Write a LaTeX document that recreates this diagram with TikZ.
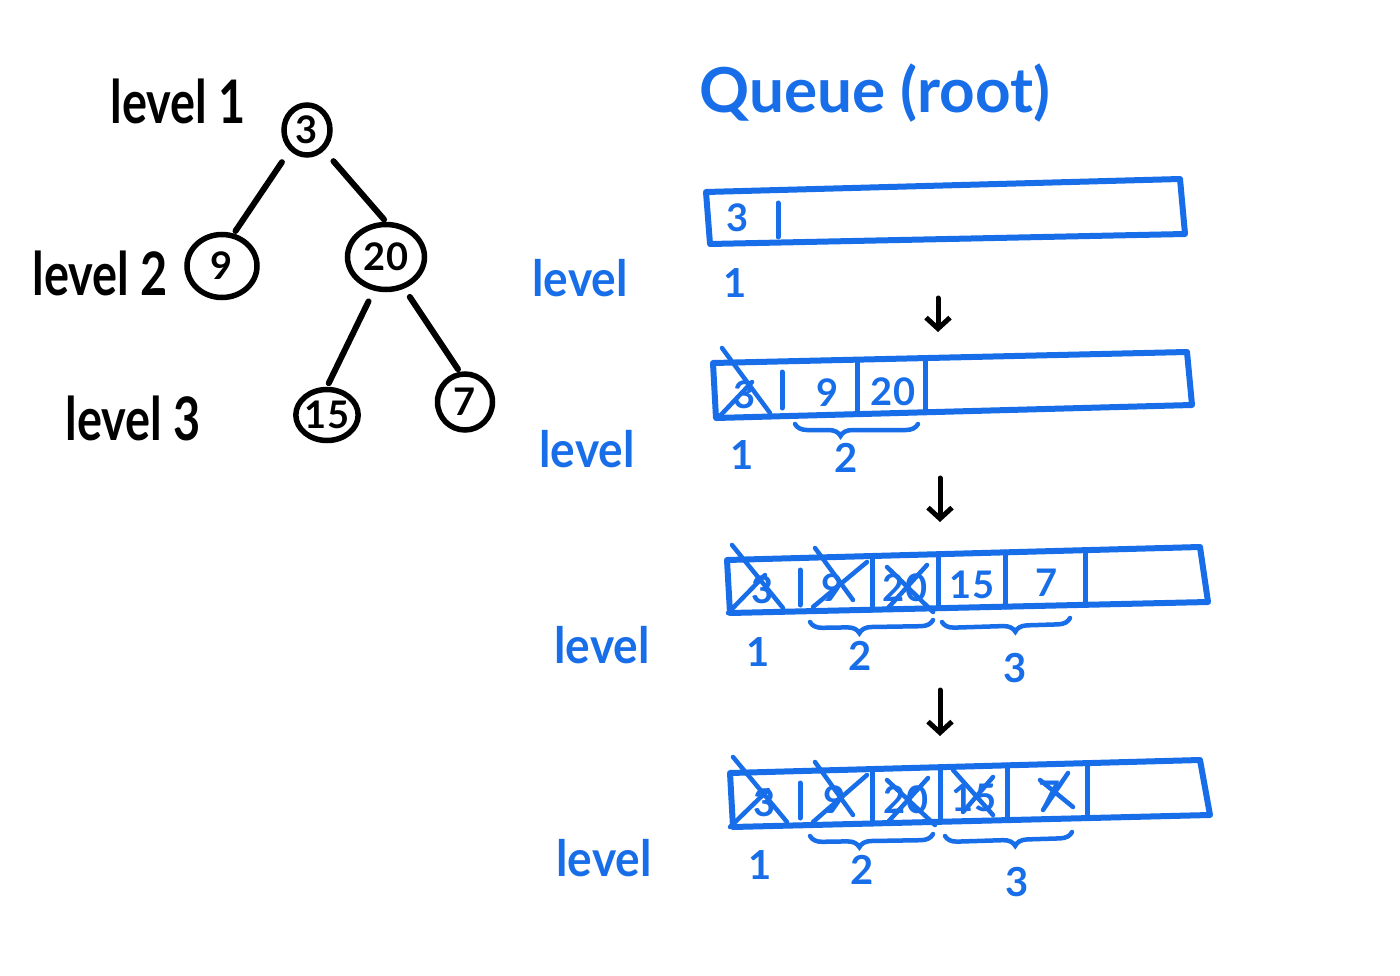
\documentclass[tikz,border=0pt]{standalone}
\usepackage{fontspec}
\setmainfont{Lato}
\usetikzlibrary{arrows.meta,shapes.geometric,decorations.pathreplacing}
\definecolor{pen}{RGB}{24,110,232}
\begin{document}
\begin{tikzpicture}[x=1pt,y=-1pt,
  treenode/.style={draw=black, line width=5.5pt, ellipse, inner sep=0pt, font=\fontsize{38}{40}\selectfont\bfseries},
  treeedge/.style={draw=black, line width=6pt, line cap=round},
  lvl/.style={font=\fontsize{60}{60}\selectfont\bfseries, xscale=0.78},
  qlvl/.style={text=pen, font=\fontsize{50}{50}\selectfont\bfseries, xscale=0.92},
  qbox/.style={draw=pen, line width=6pt, line join=round},
  qdiv/.style={draw=pen, line width=5pt, line cap=round},
  qtxt/.style={text=pen, font=\fontsize{38}{38}\selectfont\bfseries},
  qnum/.style={text=pen, font=\fontsize{40}{40}\selectfont\bfseries},
  xline/.style={draw=pen, line width=4.5pt, line cap=round},
  brc/.style={draw=pen, line width=4.5pt, line cap=round, decorate, decoration={brace, amplitude=12pt, mirror, aspect=#1}},
  steparrow/.style={draw=black, line width=5pt, line cap=round, -{Straight Barb[length=11pt,width=24pt,line width=5pt]}},
]
\useasboundingbox[fill=white] (0,0) rectangle (1400,976);

% ---------- tree ----------
\node[treenode, minimum width=46pt, minimum height=50pt] (n3) at (307,130) {3};
\node[treenode, minimum width=70pt, minimum height=63pt] (n9) at (222,266) {9};
\node[treenode, minimum width=77pt, minimum height=65pt] (n20) at (386,257) {20};
\node[treenode, minimum width=50pt, minimum height=51pt] (n15) at (327,415) {15};
\node[treenode, minimum width=55pt, minimum height=56pt] (n7) at (465,402) {7};

\draw[treeedge, shorten <=14pt, shorten >=3pt] (n3.230) -- (n9.70);
\draw[treeedge, shorten <=14pt, shorten >=3pt] (n3.310) -- (n20.north);
\draw[treeedge, shorten <=12pt, shorten >=4pt] (n20.250) -- (n15.north);
\draw[treeedge, shorten <=10pt, shorten >=3pt] (n20.300) -- (n7.100);

\node[lvl] (lv1) at (178,101) {level 1};
\node[lvl] (lv2) at (100,273) {level 2};
\node[lvl] (lv3) at (133,418) {level 3};

% ---------- queue ----------
\node[text=pen, font=\fontsize{62}{62}\selectfont\bfseries] (title) at (875,93) {Queue (root)};

\node[qlvl] (q1) at (580,278) {level};
\node[qlvl] (q2) at (587,449) {level};
\node[qlvl] (q3) at (602,645) {level};
\node[qlvl] (q4) at (604,858) {level};

% row 1
\draw[qbox] (706,192) -- (1180,179) -- (1185,234) -- (710,244) -- cycle;
\draw[qdiv] (778,203) -- (778,237);
\node[qtxt] (r1c1) at (738,218) {3};
\node[qnum] (r1l1) at (735,283) {1};

% row 2
\draw[qbox] (713,363) -- (1187,352) -- (1192,405) -- (716,418) -- cycle;
\draw[qdiv] (782,372) -- (782,408);
\draw[qdiv] (857,360) -- (857,414);
\draw[qdiv] (925,358) -- (925,412);
\node[qtxt] (r2c1) at (745,395) {3};
\node[qtxt] (r2c2) at (828,393) {9};
\node[qtxt] (r2c3) at (893,392) {20};
\draw[xline] (722,348) -- (770,413) (718,418) -- (752,382);
\draw[brc=0.37] (795,424) -- (918,424);
\node[qnum] (r2l1) at (742,455) {1};
\node[qnum] (r2l2) at (846,458) {2};

% row 3
\draw[qbox] (727,560) -- (1200,547) -- (1208,602) -- (730,613) -- cycle;
\draw[qdiv] (800,570) -- (800,605);
\draw[qdiv] (872,556) -- (872,610);
\draw[qdiv] (938,554) -- (938,608);
\draw[qdiv] (1005,552) -- (1005,607);
\draw[qdiv] (1085,550) -- (1085,605);
\node[qtxt] (r3c1) at (763,590) {3};
\node[qtxt] (r3c2) at (833,588) {9};
\node[qtxt] (r3c3) at (905,588) {20};
\node[qtxt] (r3c4) at (972,585) {15};
\node[qtxt] (r3c5) at (1047,583) {7};
\draw[xline] (732,545) -- (783,608) (728,613) -- (765,575);
\draw[xline] (815,548) -- (853,600) (813,607) -- (867,562);
\draw[xline] (887,567) -- (933,612) (888,608) -- (927,565);
\draw[brc=0.4] (810,622) -- (933,620);
\draw[brc=0.57] (942,622) -- (1070,618);
\node[qnum] (r3l1) at (758,652) {1};
\node[qnum] (r3l2) at (860,656) {2};
\node[qnum] (r3l3) at (1015,668) {3};

% row 4
\draw[qbox] (730,773) -- (1200,760) -- (1210,815) -- (733,827) -- cycle;
\draw[qdiv] (800,783) -- (800,818);
\draw[qdiv] (872,769) -- (872,824);
\draw[qdiv] (940,767) -- (940,822);
\draw[qdiv] (1007,765) -- (1007,820);
\draw[qdiv] (1087,763) -- (1087,818);
\node[qtxt] (r4c1) at (765,803) {3};
\node[qtxt] (r4c2) at (835,800) {9};
\node[qtxt] (r4c3) at (906,800) {20};
\node[qtxt] (r4c4) at (974,798) {15};
\node[qtxt] (r4c5) at (1050,795) {7};
\draw[xline] (733,757) -- (787,822) (730,827) -- (768,790);
\draw[xline] (815,762) -- (853,815) (813,822) -- (867,775);
\draw[xline] (887,780) -- (935,825) (888,822) -- (928,778);
\draw[xline] (953,770) -- (993,815) (963,812) -- (993,777);
\draw[xline] (1040,780) -- (1073,807) (1043,810) -- (1068,773);
\draw[brc=0.4] (810,836) -- (933,834);
\draw[brc=0.55] (945,836) -- (1072,832);
\node[qnum] (r4l1) at (760,865) {1};
\node[qnum] (r4l2) at (862,870) {2};
\node[qnum] (r4l3) at (1017,882) {3};

% arrows between rows
\coordinate (a1s) at (938,298); \coordinate (a1e) at (938,332);
\coordinate (a2s) at (940,478); \coordinate (a2e) at (940,522);
\coordinate (a3s) at (940,690); \coordinate (a3e) at (940,736);
\draw[steparrow] (a1s) -- (a1e);
\draw[steparrow] (a2s) -- (a2e);
\draw[steparrow] (a3s) -- (a3e);
\end{tikzpicture}
\end{document}
